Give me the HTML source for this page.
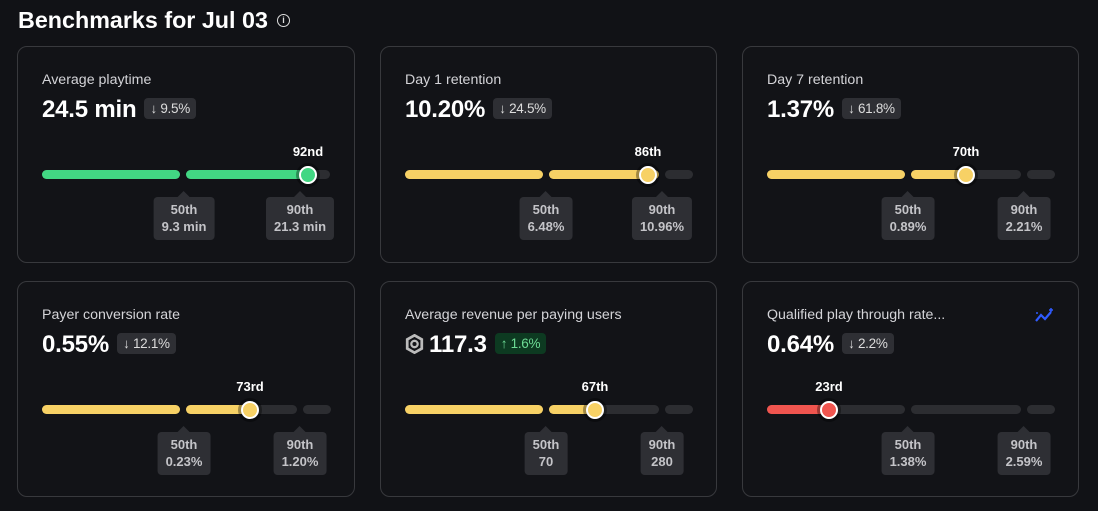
<!DOCTYPE html>
<html><head><meta charset="utf-8"><style>
*{margin:0;padding:0;box-sizing:border-box}
body{width:1098px;height:511px;background:#111216;font-family:"Liberation Sans",sans-serif;color:#fff;position:relative;overflow:hidden}
h1{position:absolute;left:18px;top:7px;font-size:23.3px;font-weight:bold;letter-spacing:0px}
.info{position:absolute;left:277px;top:14px;width:13px;height:13px;border:1.5px solid #ddd;border-radius:50%;font-size:9px;text-align:center;line-height:10px;font-weight:bold;color:#ddd}
.card{position:absolute;width:338px;height:217px;border:1px solid #38393d;border-radius:10px;background:#121317}
.t{position:absolute;left:24px;top:25px;font-size:14.2px;color:#d4d4d8}
.v{position:absolute;left:24px;top:49px;font-size:24px;font-weight:bold;letter-spacing:-0.2px}
.b{display:inline-block;vertical-align:4px;margin-left:8px;background:#2e2f34;border-radius:4px;font-size:13.5px;font-weight:normal;padding:3px 6px;color:#ddd;letter-spacing:-0.3px}
.b.g{background:#0d3a21;color:#6ddb95}
.seg{position:absolute;top:123px;height:9px;border-radius:5px;background:#2c2d31;overflow:hidden}
.seg i{position:absolute;left:0;top:0;bottom:0}
.dot{position:absolute;top:119px;width:18px;height:18px;margin-left:-9px;border-radius:50%;border:2px solid #fff;box-shadow:0 0 0 3px rgba(0,0,0,.35)}
.rk{position:absolute;top:97px;width:60px;margin-left:-30px;text-align:center;font-size:13px;font-weight:bold}
.tip{position:absolute;top:150px;height:43px;border-radius:4px;background:#2e2f34;color:#c4c4c8;font-size:13px;text-align:center;line-height:17px;padding:4px 8px;font-weight:bold;transform:translateX(-50%);white-space:nowrap}
.tip:before{content:"";position:absolute;left:50%;top:-6px;margin-left:-6px;border:6px solid transparent;border-top:0;border-bottom-color:#2e2f34}
</style></head><body>
<h1>Benchmarks for Jul 03</h1><div class="info">i</div>

<div class="card" style="left:17px;top:46px">
<div class="t">Average playtime</div>
<div class="v">24.5 min<span class="b">↓ 9.5%</span></div>
<div class="seg" style="left:24px;width:138px"><i style="width:100%;background:#42d783"></i></div>
<div class="seg" style="left:168px;width:144px"><i style="width:122px;background:#42d783"></i></div>
<div class="dot" style="left:290px;background:#42d783"></div>
<div class="rk" style="left:290px">92nd</div>
<div class="tip" style="left:166px">50th<br>9.3 min</div>
<div class="tip" style="left:282px">90th<br>21.3 min</div>
</div>

<div class="card" style="left:380px;top:46px;width:337px">
<div class="t">Day 1 retention</div>
<div class="v">10.20%<span class="b">↓ 24.5%</span></div>
<div class="seg" style="left:24px;width:138px"><i style="width:100%;background:#f7d165"></i></div>
<div class="seg" style="left:168px;width:110px"><i style="width:100%;background:#f7d165"></i></div>
<div class="seg" style="left:284px;width:28px"></div>
<div class="dot" style="left:267px;background:#f7d165"></div>
<div class="rk" style="left:267px">86th</div>
<div class="tip" style="left:165px">50th<br>6.48%</div>
<div class="tip" style="left:281px">90th<br>10.96%</div>
</div>

<div class="card" style="left:742px;top:46px;width:337px">
<div class="t">Day 7 retention</div>
<div class="v">1.37%<span class="b">↓ 61.8%</span></div>
<div class="seg" style="left:24px;width:138px"><i style="width:100%;background:#f7d165"></i></div>
<div class="seg" style="left:168px;width:110px"><i style="width:55px;background:#f7d165"></i></div>
<div class="seg" style="left:284px;width:28px"></div>
<div class="dot" style="left:223px;background:#f7d165"></div>
<div class="rk" style="left:223px">70th</div>
<div class="tip" style="left:165px">50th<br>0.89%</div>
<div class="tip" style="left:281px">90th<br>2.21%</div>
</div>

<div class="card" style="left:17px;top:281px;height:216px">
<div class="t">Payer conversion rate</div>
<div class="v">0.55%<span class="b">↓ 12.1%</span></div>
<div class="seg" style="left:24px;width:138px"><i style="width:100%;background:#f7d165"></i></div>
<div class="seg" style="left:168px;width:111px"><i style="width:64px;background:#f7d165"></i></div>
<div class="seg" style="left:285px;width:28px"></div>
<div class="dot" style="left:232px;background:#f7d165"></div>
<div class="rk" style="left:232px">73rd</div>
<div class="tip" style="left:166px">50th<br>0.23%</div>
<div class="tip" style="left:282px">90th<br>1.20%</div>
</div>

<div class="card" style="left:380px;top:281px;width:337px;height:216px">
<div class="t">Average revenue per paying users</div>
<div class="v"><svg width="19" height="20" viewBox="0 0 20 22" style="vertical-align:-2px;margin-right:5px"><path d="M10 1.5 L18 6 L18 16 L10 20.5 L2 16 L2 6 Z" fill="none" stroke="#bbb" stroke-width="3"/><circle cx="10" cy="11" r="3.5" fill="none" stroke="#bbb" stroke-width="2.5"/></svg>117.3<span class="b g">↑ 1.6%</span></div>
<div class="seg" style="left:24px;width:138px"><i style="width:100%;background:#f7d165"></i></div>
<div class="seg" style="left:168px;width:110px"><i style="width:46px;background:#f7d165"></i></div>
<div class="seg" style="left:284px;width:28px"></div>
<div class="dot" style="left:214px;background:#f7d165"></div>
<div class="rk" style="left:214px">67th</div>
<div class="tip" style="left:165px">50th<br>70</div>
<div class="tip" style="left:281px">90th<br>280</div>
</div>

<div class="card" style="left:742px;top:281px;width:337px;height:216px">
<div class="t">Qualified play through rate...</div>
<svg style="position:absolute;left:292px;top:26px" width="20" height="16" viewBox="0 0 20 16"><path d="M1 13 L6 7 L10 11 L16 4" stroke="#2f5bff" stroke-width="2.2" fill="none"/><path d="M16 0 v4 M14 2 h4" stroke="#2f5bff" stroke-width="1.5"/><circle cx="2" cy="5" r="1" fill="#2f5bff"/></svg>
<div class="v">0.64%<span class="b">↓ 2.2%</span></div>
<div class="seg" style="left:24px;width:138px"><i style="width:62px;background:#f0554f"></i></div>
<div class="seg" style="left:168px;width:110px"></div>
<div class="seg" style="left:284px;width:28px"></div>
<div class="dot" style="left:86px;background:#f0554f"></div>
<div class="rk" style="left:86px">23rd</div>
<div class="tip" style="left:165px">50th<br>1.38%</div>
<div class="tip" style="left:281px">90th<br>2.59%</div>
</div>
</body></html>
